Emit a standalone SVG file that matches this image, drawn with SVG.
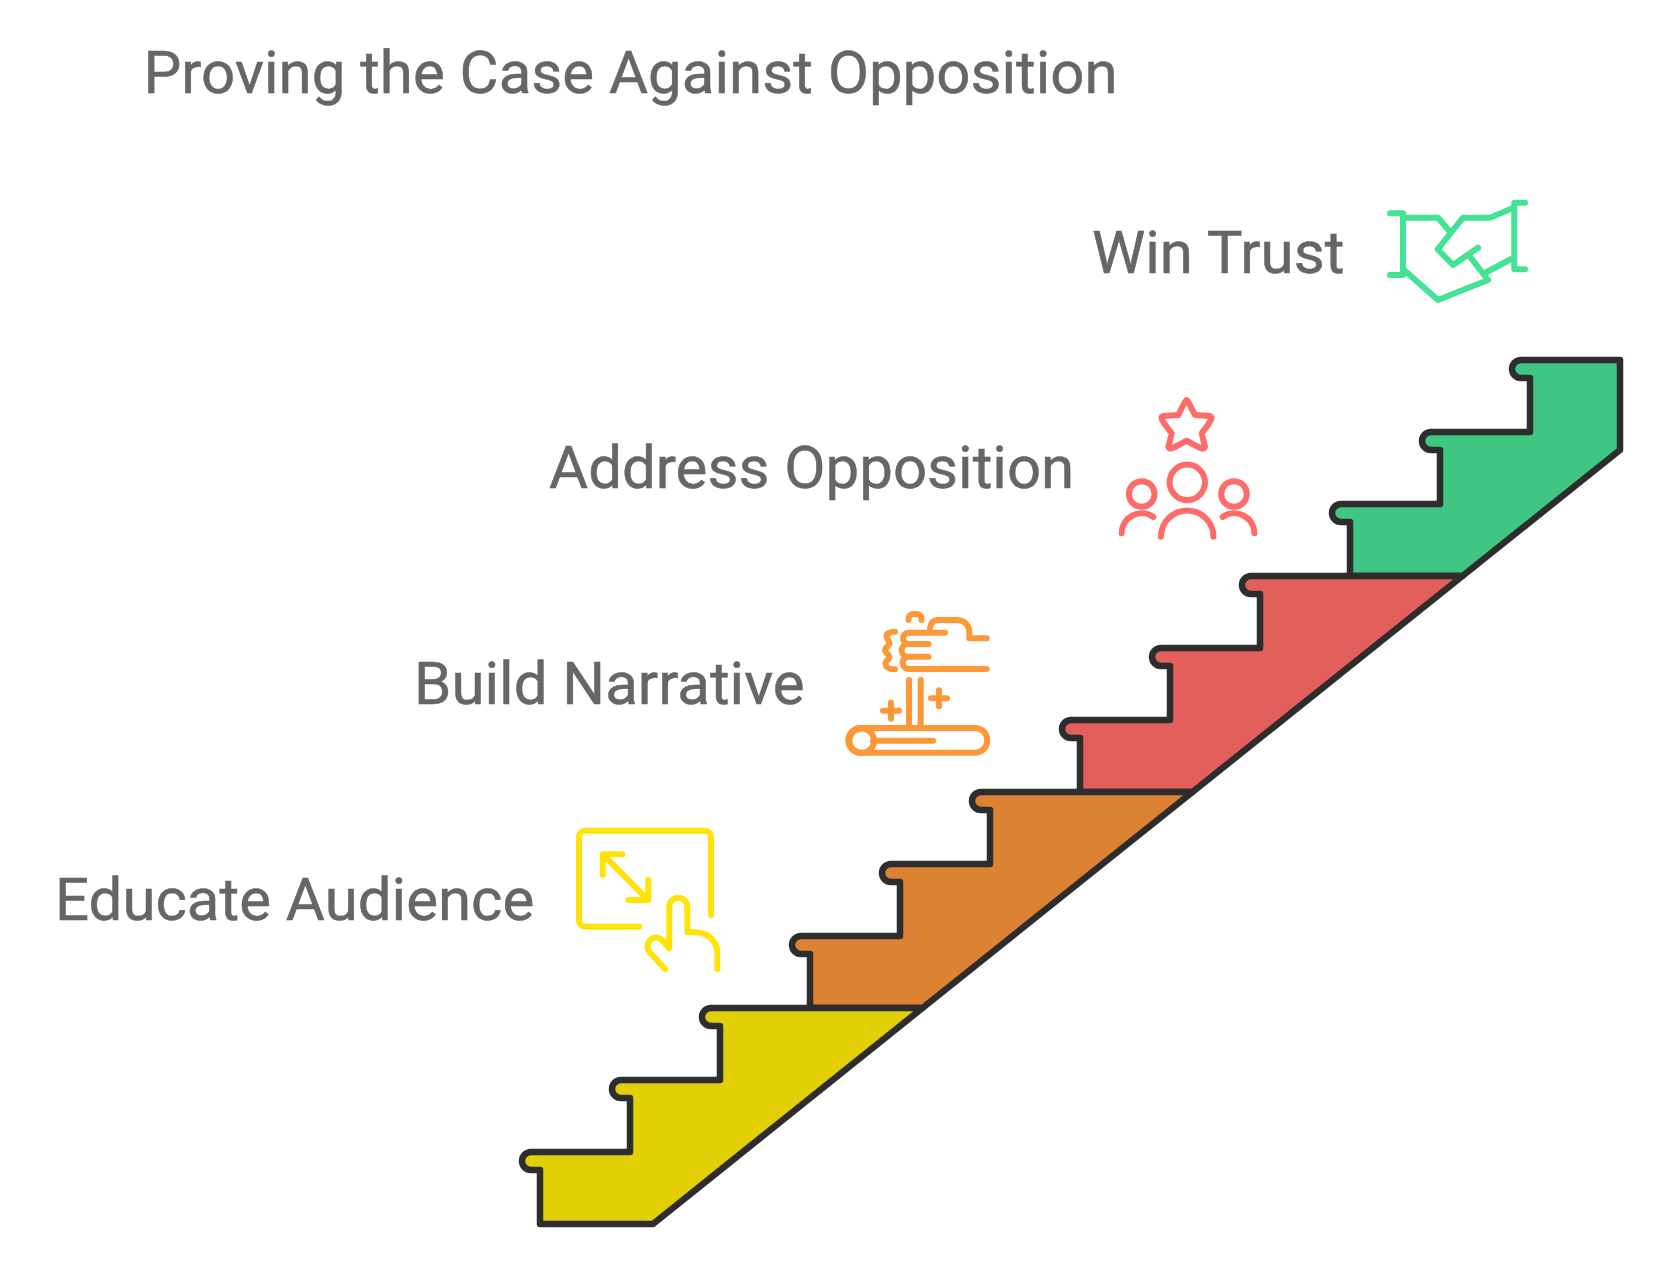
<svg xmlns="http://www.w3.org/2000/svg" width="1659" height="1263" viewBox="0 0 1659 1263">
<style>
.s{stroke:#2d2d2d;stroke-width:6.5;stroke-linejoin:round;stroke-linecap:round}
.i{fill:none;stroke-width:6;stroke-linejoin:round;stroke-linecap:round}
text{font-family:Roboto,"Liberation Sans",sans-serif;font-size:60px;fill:#666666;stroke:#666666;stroke-width:.5px}
</style>
<rect width="1659" height="1263" fill="#ffffff"/>
<g id="title"><text x="143.500" y="93">Proving the Case Against Opposition</text></g>
<g id="step-win-trust">
<path class="s" fill="#3ec682" d="M1350 576V522H1341a9 9 0 0 1 0-18H1440V450H1431a9 9 0 0 1 0-18H1530V378H1521a9 9 0 0 1 0-18H1620V450L1462.500 576Z"/>
<text x="1092" y="273">Win Trust</text>
<g class="i" stroke="#43e295">
<path d="M1390 213.300H1403M1403 213.300V275M1390 275H1403M1403.500 269.500L1438 300L1488 280M1403 217.700H1438L1450 231.700M1478 247.700L1453 265L1437.700 249.300L1463 217.700H1490L1513 208M1470 256.700L1488 280M1485 273L1513 258M1514.300 202.700V269.300M1514.300 202.700H1525M1514.300 269.300H1525"/>
</g>
</g>
<g id="step-address-opposition">
<path class="s" fill="#e35f5c" d="M1080 792V738H1071a9 9 0 0 1 0-18H1170V666H1161a9 9 0 0 1 0-18H1260V594H1251a9 9 0 0 1 0-18H1462.500L1192.500 792Z"/>
<text x="549" y="488">Address Opposition</text>
<g class="i" stroke="#ff6b67">
<path d="M1186.700 400C1188 400 1194 414 1195 415L1210 416C1213 417 1212 420 1201.700 433.300L1205 447C1204 450 1201 449 1186.700 440.700C1172 449 1169 450 1168.500 447L1171.700 433.300C1161 420 1160 417 1163 416L1178.300 415C1179 414 1185 400 1186.700 400Z"/>
<circle cx="1187.300" cy="482.300" r="17.700"/>
<circle cx="1141.700" cy="494" r="12.800"/>
<circle cx="1234" cy="494" r="12.800"/>
<path d="M1161 536.700a26.200 26.200 0 0 1 52.400 0M1121.700 533.300a20 20 0 0 1 31.600-16.300M1254.300 533.300a20 20 0 0 0-31.600-16.300"/>
</g>
</g>
<g id="step-build-narrative">
<path class="s" fill="#db8333" d="M810 1008V954H801a9 9 0 0 1 0-18H900V882H891a9 9 0 0 1 0-18H990V810H981a9 9 0 0 1 0-18H1192.500L922.500 1008Z"/>
<text x="414" y="704">Build Narrative</text>
<g class="i" stroke="#fc9838">
<path d="M908.500 620v-1a5 5 0 0 1 5-5h3a5 5 0 0 1 5 5v1"/>
<path d="M930 628c1-5 3-8 7-8H958a12 12 0 0 1 11.300 13V638.300H986.700"/>
<path d="M945 632.700H908a5.700 5.700 0 0 0 0 11.300H928.500M908 644a6.300 6.300 0 0 0 0 12.700H928.500M908 656.700a6.200 6.200 0 0 0 0 12.300H986.700"/>
<path d="M895 631.700C889 631.700 885 634 887 638C888 641 890 642 889.500 644C888 646 885 648 885 650.500C885 653 889 654 889.500 657C889 660 885 661 885.500 664C886 668 890 669.300 895 669.300"/>
<path d="M909 680V728M920.700 680V728M939 690.300V706.300M931 698.300H947M891 702.700V718.700M883 710.700H899"/>
<rect x="848.300" y="728" width="139" height="24.700" rx="12.300"/>
<circle cx="861.700" cy="740.700" r="12.300"/>
<path d="M873 740.700H933"/>
</g>
</g>
<g id="step-educate-audience">
<path class="s" fill="#e2cf05" d="M540 1224V1170H531a9 9 0 0 1 0-18H630V1098H621a9 9 0 0 1 0-18H720V1026H711a9 9 0 0 1 0-18H922.500L653 1224Z"/>
<text x="55" y="920">Educate Audience</text>
<g class="i" stroke="#ffe308">
<path d="M639.300 926.700H585a6 6 0 0 1-6-6V836.700a6 6 0 0 1 6-6H705a6 6 0 0 1 6 6V915"/>
<path d="M602.700 854.300L648.300 900M602.700 875V854.300H622.300M648.300 880V900H628.300"/>
<path d="M665 969L649.300 951.700C645 946 649 938 656 937.500C662 937 665 944 669.300 948.300V906.700a9 9 0 0 1 18 0V932.300H696a21 21 0 0 1 21.300 21V969"/>
</g>
</g>
</svg>
